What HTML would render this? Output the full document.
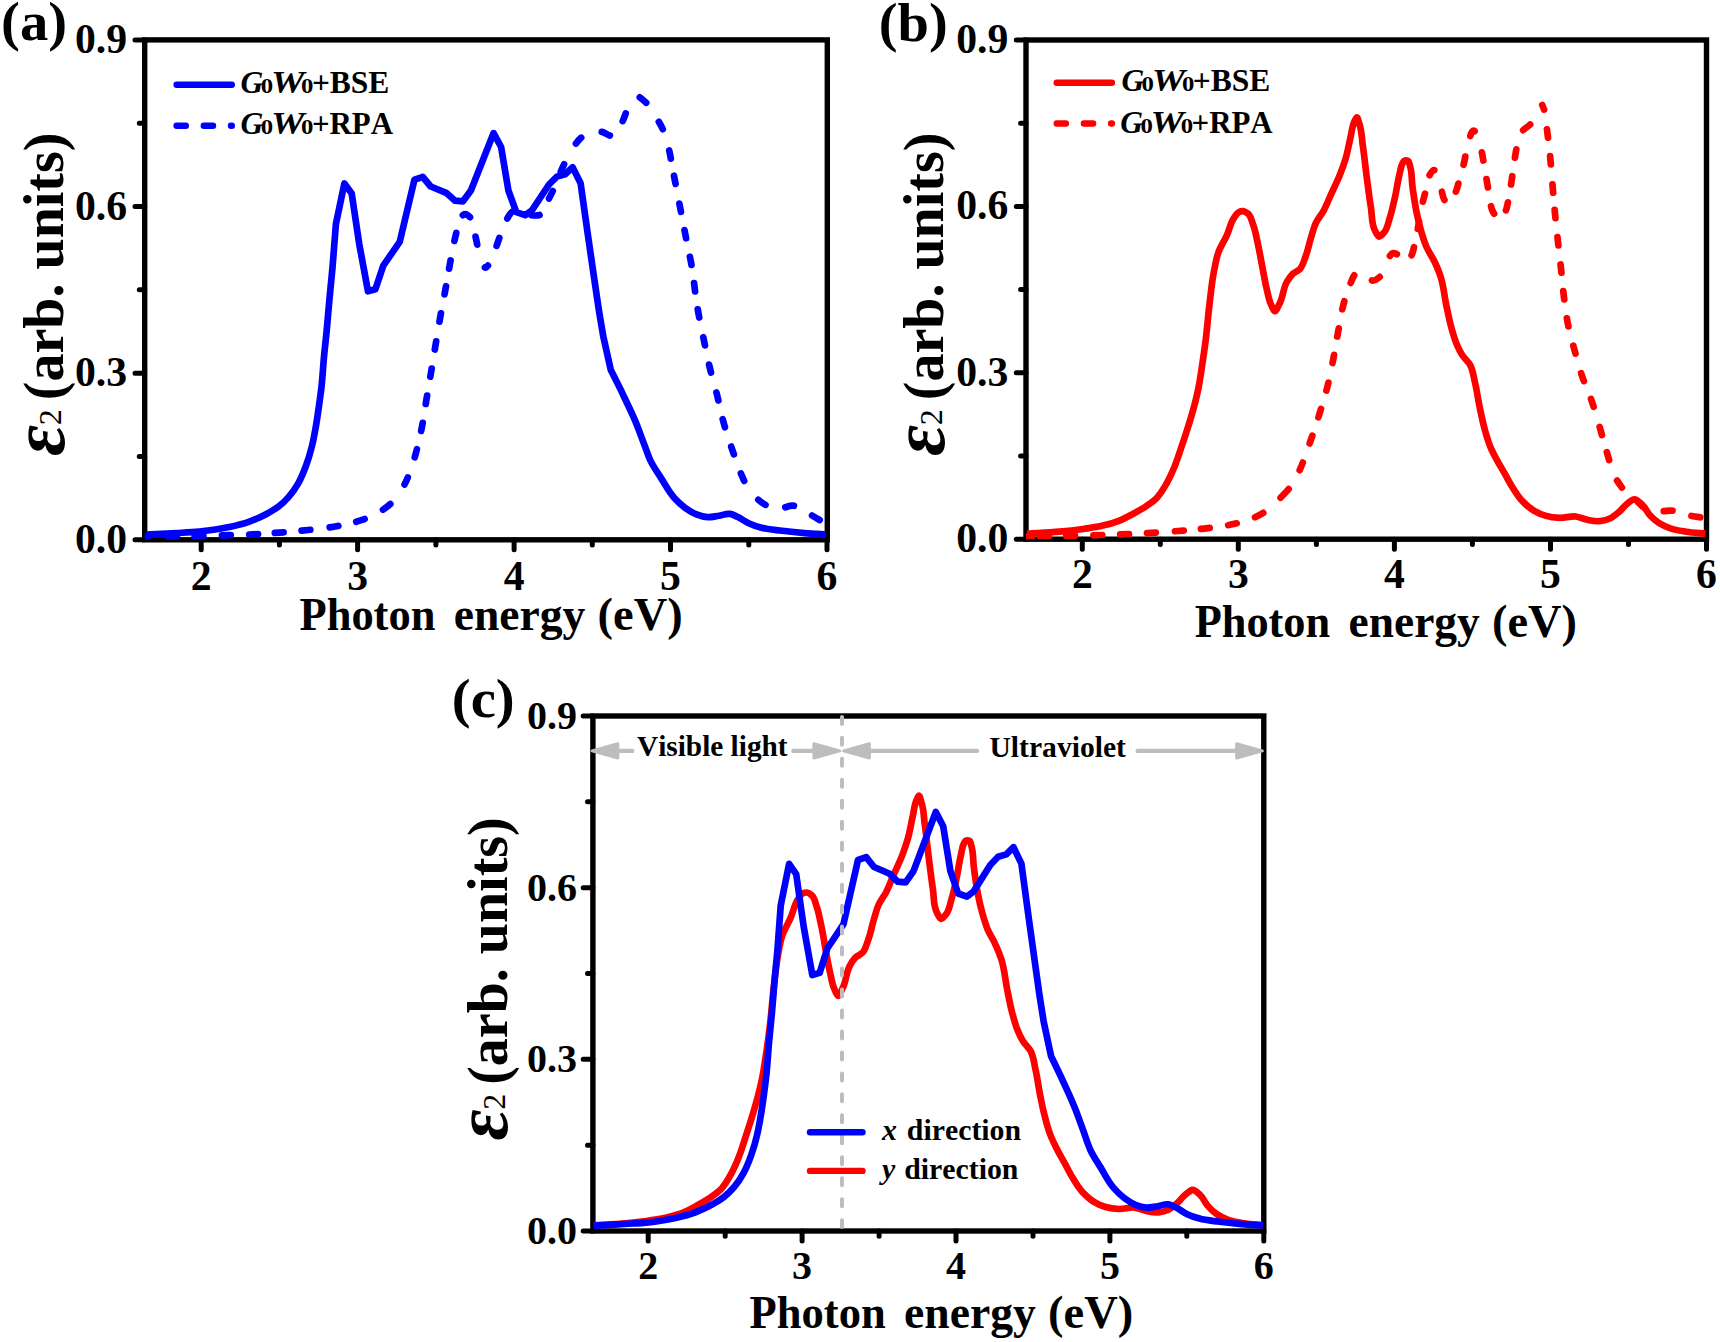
<!DOCTYPE html>
<html lang="en"><head><meta charset="utf-8"><title>Imaginary part of the dielectric function</title>
<style>html,body{margin:0;padding:0;background:#fff;overflow:hidden}svg{display:block}text{font-family:'Liberation Serif', 'Times New Roman', Times, serif;fill:#000;font-kerning:none}</style>
</head><body>
<svg width="1720" height="1342" viewBox="0 0 1720 1342">
<rect width="1720" height="1342" fill="#fff"/>
<defs>
<clipPath id="ca"><rect x="144.7" y="39.9" width="682.6" height="499.9"/></clipPath>
<clipPath id="cb"><rect x="1026" y="40" width="680.5" height="499.2"/></clipPath>
<clipPath id="cc"><rect x="592.9" y="716" width="670.9" height="515"/></clipPath>
</defs>
<g id="panel-a">
<rect x="144.7" y="39.9" width="682.6" height="499.9" fill="none" stroke="#000" stroke-width="5.4"/>
<path d="M201.2 539.8 V549.8 M357.6 539.8 V549.8 M514.1 539.8 V549.8 M670.5 539.8 V549.8 M827 539.8 V549.8 M279.4 539.8 V545 M435.9 539.8 V545 M592.3 539.8 V545 M748.8 539.8 V545 M144.7 539.8 H135 M144.7 373.2 H135 M144.7 206.5 H135 M144.7 39.9 H135 M144.7 456.5 H139.3 M144.7 289.8 H139.3 M144.7 123.2 H139.3" fill="none" stroke="#000" stroke-width="5.0" stroke-linecap="round"/>
<g clip-path="url(#ca)" fill="none" stroke="#0000ff" stroke-width="6.7" stroke-linejoin="round">
<path d="M146 537 C163.7 536.7 181.3 536.5 199 536 C218.9 535.5 238.8 535.2 258.6 534 C275.1 533 291.6 531.9 308 530 C317.9 528.9 327.9 527.9 337.7 526 C345.7 524.4 353.8 522.9 361.4 520.2 C366.8 518.3 372.2 516 377.2 513.2 C382.1 510.4 387 507.2 391 503.4 C395.7 498.9 399.6 493.2 402.9 487.5 C406.1 482 408.5 475.8 410.8 469.8 C413.2 463.4 414.9 456.7 416.7 450 C418.6 442.8 420.2 435.5 421.7 428.2 C423.7 418.4 425 408.5 426.6 398.6 C428.3 388.7 430 378.9 431.6 369 C433.3 359.1 434.8 349.2 436.5 339.3 C437.8 331.4 439.1 323.5 440.5 315.6 C442.3 305.5 444.4 295.4 446.2 285.3 C447.9 276.1 449.3 266.9 451.1 257.7 C452.6 249.8 454.1 241.8 456 234 C457.3 228.5 456.6 221.4 460.4 217.5 C461.7 216.2 463.4 214.3 465 214.2 C466.9 214 469.3 216.5 470.9 218.1 C475.5 222.6 474.2 231.3 475.8 237.9 C477.4 244.5 478.1 251.4 480.7 257.7 C482.1 261.1 483.4 268.3 485.7 267.6 C486.8 267.3 488.4 265 489.6 263.6 C493.6 258.7 494.4 251.8 496.6 245.8 C498.3 241.2 499.7 236.6 501.5 232 C503 228 504.2 223.8 506.4 220.1 C508.3 216.9 510.3 212.1 513.4 211.2 C515.8 210.5 519.1 212.4 522 213 C525.1 213.7 528.1 214.9 531.2 215.2 C534.1 215.5 537.6 215.9 540 214.8 C543.8 213.1 544.8 206.5 547 202.3 C549.3 198.1 551.4 193.8 553.5 189.5 C557.4 181.3 560 172.6 564 164.5 C567.3 157.8 570.4 150.7 575 144.8 C576.9 142.3 578.9 139.5 581.3 137.6 C586.7 133.3 595.2 130.8 601.9 131.9 C605.1 132.5 608.7 135.9 611.5 135.7 C616.1 135.3 619.2 127.3 622 122.5 C624.4 118.3 625.3 113.2 627.7 108.9 C630.2 104.4 633.1 96.3 636.9 96.3 C639.6 96.3 643.5 100.3 646.2 102.8 C650.5 106.8 653.3 112.6 656.4 117.7 C659.1 122.2 661.9 126.8 663.9 131.7 C666 136.7 667.2 142.2 668.5 147.5 C670.5 155.5 671.6 163.7 673.2 171.8 C675.4 183 677.5 194.1 679.7 205.3 C681.9 216.5 684 227.6 686.2 238.8 C688 248.1 690.2 257.4 691.8 266.7 C693.6 277.1 694.4 287.6 696 298 C696.7 302.8 697.5 307.6 698.3 312.4 C699.9 321.7 702 331 703.9 340.3 C705.7 349 707.4 357.7 709.5 366.4 C711.7 375.8 714.6 385 716.9 394.3 C719.2 403.6 720.9 413 723.5 422.2 C725.9 431 728.8 439.7 731.8 448.3 C735 457.7 738 467.2 742.1 476.2 C744.1 480.6 745.8 485.3 748.6 489.3 C750.7 492.3 753.4 495.2 756.1 497.7 C759.4 500.8 763.1 503.9 767.2 505.7 C771.2 507.4 775.9 508.3 780.3 508.3 C784.6 508.3 789 505.2 793.3 505.7 C795.8 506 798.4 506.9 800.8 507.9 C804.9 509.6 808.1 513 811.9 515.4 C816.5 518.3 821.3 520.8 826 523.5" stroke-dasharray="2.3 19.8 8.8 17.71 8.8 18.56 8.8 18.52 8.8 16.82 8.8 18.04 8.8 19.5 8.8 18.36 8.8 20.64 9.3 24.2 7.8 21.32 8.3 18.79 8.3 19.2 8.3 19.22 8.3 19.28 8.3 20 8.3 19.4 8.3 17.85 8.3 19.91 8.3 19.38 8.3 20.72 8.3 24.13 3.8 21.84 8.3 21.18 8.3 20.1 7.8 19.43 8.3 20.89 8.3 23.91 7.8 21.93 8.8 20.62 8.3 24.07 8.3 22.95 8.3 22.32 8.3 17.39 8.3 20.13 8.3 18.7 8.3 18.76 8.3 18.54 8.3 18.12 8.3 20.16 8.3 19.6 8.3 20.56 8.3 19.18 8.3 20.33 8.3 20.21 8.3 23.71 8.8 20.46 8.8 20.8 8.8 5000" stroke-linecap="round"/>
<path d="M146 534.7 C156.3 534.1 166.7 533.6 177 533 C184.4 532.6 191.9 532.3 199.3 531.6 C209.3 530.6 219.2 529.3 229 527.1 C235.6 525.6 242.3 524.1 248.7 521.8 C254.8 519.6 260.8 517.1 266.5 514 C270.6 511.8 274.7 509.5 278.4 506.7 C282 504 285.3 500.8 288.3 497.4 C292 493.2 295.3 488.5 298.1 483.6 C301.3 478 303.7 471.9 306 465.8 C308.4 459.4 310.3 452.7 312 446 C313.6 439.5 314.7 432.9 315.9 426.3 C317 419.7 318 413.1 318.9 406.5 C319.8 399.9 320.8 393.3 321.5 386.7 C322.5 377.5 323 368.2 323.8 359 C324.7 349.1 325.9 339.3 326.8 329.4 C327.7 319.5 328.5 309.7 329.4 299.8 C330.4 289.1 332.5 267.6 332.5 267.6 L335.9 224 L344.4 183.5 L351.7 193.4 L359.2 243.8 L368 291.3 L375.4 289.3 L383.3 265.6 L399.7 241.9 L414.5 179.6 L422.8 177 L430.7 186.5 L446.2 192.8 L455 200.7 L463 201.3 L470.9 190.5 L493.6 133.1 L501.1 147 L508.4 190.5 L516.3 212.2 L525.2 215.2 L532.1 210.2 L549 184.5 L556.9 176.6 L565.2 174.2 L572.6 167.3 L580.6 183.2 L588.4 238.5 L595 284 L599 311 L603.3 336.6 L610.8 370.1 C610.8 370.1 619.6 387.4 623.8 396.2 C627.6 404.2 631.5 412.2 635 420.4 C638.4 428.4 641.2 436.5 644.3 444.6 C646.5 450.2 648.2 456 650.8 461.4 C653.7 467.2 657.6 472.6 661.1 478.1 C665.3 484.7 668.9 491.9 674.1 497.7 C677.5 501.4 681.2 505 685.3 507.9 C688.8 510.4 692.5 512.8 696.5 514.4 C700 515.8 703.9 517 707.6 517.2 C711.3 517.4 715.1 516.3 718.8 515.8 C722.5 515.2 726.4 513.3 730 513.9 C732.5 514.3 735 515.7 737.4 516.8 C741.3 518.6 744.7 521.4 748.6 523.2 C752.8 525.1 757.2 526.6 761.6 527.8 C768.2 529.6 775.2 529.9 782.1 530.8 C789.5 531.7 797 532.5 804.5 533.1 C811.7 533.7 818.8 534 826 534.4"/>
</g>
<g font-size="41.7" font-weight="bold" text-anchor="middle">
<text x="201.2" y="589.8">2</text>
<text x="357.6" y="589.8">3</text>
<text x="514.1" y="589.8">4</text>
<text x="670.5" y="589.8">5</text>
<text x="827" y="589.8">6</text>
</g>
<g font-size="41.7" font-weight="bold" text-anchor="end">
<text x="127" y="552.8">0.0</text>
<text x="127" y="386.2">0.3</text>
<text x="127" y="219.5">0.6</text>
<text x="127" y="52.9">0.9</text>
</g>
<g font-size="47.2" font-weight="bold">
<text x="299.5" y="629.8" textLength="135.9" lengthAdjust="spacingAndGlyphs">Photon</text>
<text x="453.8" y="629.8" textLength="131.6" lengthAdjust="spacingAndGlyphs">energy</text>
<text x="597.6" y="629.8" textLength="85.1" lengthAdjust="spacingAndGlyphs">(eV)</text>
</g>
<g transform="translate(62.9 455.9) rotate(-90)">
<text x="0" y="0" font-size="56" font-weight="bold"><tspan font-style="italic" font-size="76" dy="0.7">ε</tspan><tspan font-size="32" font-weight="normal" dx="-0.4" dy="-2.4">2</tspan><tspan dx="9" dy="1.7">(arb. units)</tspan></text>
</g>
<text x="1.1" y="39.9" font-size="54.5" font-weight="bold" textLength="66.1" lengthAdjust="spacingAndGlyphs">(a)</text>
<path d="M176.6 84.8H231.8" stroke="#0000ff" stroke-width="6.4" stroke-linecap="round" fill="none"/>
<path d="M176.6 125.7H231.8" stroke="#0000ff" stroke-width="6.4" stroke-linecap="round" stroke-dasharray="9.2 18" fill="none"/>
<g font-size="31.5" font-weight="bold">
<text x="240.6" y="92.8" font-style="italic">G</text>
<text x="260.8" y="92.8" font-size="20" textLength="12.4" lengthAdjust="spacingAndGlyphs">0</text>
<text x="270.9" y="92.8" font-style="italic" textLength="33.5" lengthAdjust="spacingAndGlyphs">W</text>
<text x="301.1" y="92.8" font-size="20" textLength="12.4" lengthAdjust="spacingAndGlyphs">0</text>
<text x="311.9" y="92.8">+BSE</text>
</g>
<g font-size="31.5" font-weight="bold">
<text x="240.6" y="134.4" font-style="italic">G</text>
<text x="260.8" y="134.4" font-size="20" textLength="12.4" lengthAdjust="spacingAndGlyphs">0</text>
<text x="270.9" y="134.4" font-style="italic" textLength="33.5" lengthAdjust="spacingAndGlyphs">W</text>
<text x="301.1" y="134.4" font-size="20" textLength="12.4" lengthAdjust="spacingAndGlyphs">0</text>
<text x="311.9" y="134.4" textLength="81.2" lengthAdjust="spacingAndGlyphs">+RPA</text>
</g>
</g>
<g id="panel-b">
<rect x="1026" y="40" width="680.5" height="499.2" fill="none" stroke="#000" stroke-width="5.4"/>
<path d="M1082.3 539.2 V549.2 M1238.3 539.2 V549.2 M1394.4 539.2 V549.2 M1550.5 539.2 V549.2 M1706.5 539.2 V549.2 M1160.3 539.2 V544.4 M1316.4 539.2 V544.4 M1472.4 539.2 V544.4 M1628.5 539.2 V544.4 M1026 539.2 H1016.3 M1026 372.8 H1016.3 M1026 206.4 H1016.3 M1026 40 H1016.3 M1026 456 H1020.6 M1026 289.6 H1020.6 M1026 123.2 H1020.6" fill="none" stroke="#000" stroke-width="5.0" stroke-linecap="round"/>
<g clip-path="url(#cb)" fill="none" stroke="#ff0000" stroke-width="6.7" stroke-linejoin="round">
<path d="M1027 536.6 C1044.4 536.3 1061.9 536.1 1079.3 535.6 C1095.8 535.2 1112.2 534.8 1128.7 534 C1145.2 533.2 1161.7 532.4 1178.1 531 C1188 530.2 1197.9 529.4 1207.8 528.1 C1216.4 527 1225.1 526.1 1233.5 524.1 C1240.2 522.5 1247 521 1253.2 518.2 C1258 516 1262.8 513.4 1267.1 510.3 C1272.2 506.6 1276.5 501.9 1280.9 497.4 C1285.1 493 1289.5 488.6 1292.8 483.6 C1296 478.7 1298.4 473.2 1300.7 467.8 C1302.9 462.6 1304.7 457.3 1306.6 452 C1309 445.4 1311.3 438.8 1313.5 432.2 C1315.9 425 1318.3 417.8 1320.5 410.5 C1322.9 402.6 1325.4 394.7 1327.4 386.7 C1329.7 377.6 1331.5 368.3 1333.3 359 C1335.1 349.8 1336.5 340.6 1338.2 331.4 C1340.1 321.5 1341.4 311.4 1344.2 301.7 C1346 295.5 1347.6 289 1350.5 283.3 C1352.1 280.1 1353.3 274.7 1356.2 274 C1358.1 273.5 1360.8 274.8 1363 275.5 C1366.6 276.6 1370.1 280.9 1373.4 280.5 C1376.2 280.2 1379.4 277.3 1381.6 275.1 C1385.5 271.1 1384.8 263.5 1388.2 258.7 C1389.6 256.7 1391 253.3 1393.1 253 C1394.5 252.8 1396.4 254.1 1398 254.6 C1401.8 255.7 1406.8 258.7 1409.5 257.5 C1412.6 256.1 1413.2 249.3 1414.6 245 C1416.7 238.6 1417.2 231.7 1418.5 225 C1419.8 218 1420.7 210.9 1422.3 204 C1423.3 199.7 1424.5 195.5 1425.6 191.3 C1427 185.9 1426.8 179.6 1429.7 175 C1430.8 173.2 1432.3 170 1433.8 170 C1435.1 170 1436.8 172 1437.9 173.3 C1441.1 176.9 1439.6 183.2 1441 188 C1442.3 192.4 1443.1 200.8 1445.9 201 C1448 201.2 1452 197.2 1454.1 194.6 C1456.9 191.1 1457.5 185.9 1459 181.5 C1461 175.6 1462.4 169.5 1463.9 163.4 C1465.8 155.8 1466 147.7 1468.9 140.5 C1470.3 137.1 1471.2 130 1473.8 130.7 C1474.7 131 1476.1 132.2 1477 133.1 C1480.7 136.7 1479.9 143.5 1481.1 148.7 C1482.8 156.3 1483.8 164 1485.2 171.6 C1486.6 179.3 1487.7 187 1489.3 194.6 C1490.5 200.6 1490.2 207.5 1493.4 212.6 C1494.9 215 1497.3 219.2 1499.2 219.2 C1501.1 219.2 1503.5 215.1 1504.9 212.6 C1506.9 209.2 1507.3 205 1508.2 201.1 C1509.8 194.7 1510.5 188 1511.5 181.5 C1512.7 173.8 1513.5 166.1 1514.8 158.5 C1515.5 154.1 1516.1 149.7 1517.2 145.4 C1518.3 141 1518.9 136 1521.3 132.3 C1523.6 128.7 1528.7 126.8 1531.1 123.3 C1534.1 118.9 1533.1 112.2 1536.1 107.7 C1537.3 106 1539 102.9 1540.2 102.8 C1541.8 102.6 1543.3 107.6 1544.3 110.2 C1546.4 115.5 1545.9 121.7 1546.7 127.4 C1547.9 136.7 1549.1 145.9 1550 155.2 C1551 165 1551.7 174.9 1552.5 184.8 C1553.3 194.1 1554 203.3 1554.9 212.6 C1555.9 223 1557.1 233.4 1558.2 243.8 C1559.3 253.6 1560.5 263.5 1561.5 273.3 C1562.1 278.8 1562.5 284.3 1563.1 289.8 C1563.6 294.4 1564.2 299.1 1564.8 303.7 C1565.7 310.3 1566.5 316.9 1567.8 323.4 C1569.4 331.4 1571.6 339.2 1573.7 347.1 C1576.2 356.3 1578.6 365.6 1581.6 374.7 C1584.5 383.4 1588.5 391.7 1591.5 400.4 C1594.4 408.9 1596.8 417.5 1599.4 426.1 C1602.1 435.3 1604.5 444.6 1607.3 453.7 C1609.8 461.6 1611.3 470.1 1615.2 477.4 C1617.4 481.5 1620.3 485.3 1623.1 489.2 C1625 491.9 1626.6 495 1629 497.1 C1631.2 499 1634.4 499.8 1636.9 501.5 C1639.7 503.4 1641.9 506.4 1644.8 508 C1649.4 510.5 1655.3 511 1660.6 511.3 C1664.5 511.5 1668.5 510.2 1672.4 510.6 C1677.1 511.1 1681.5 513.8 1686.2 514.9 C1692.5 516.5 1699.1 517 1705.5 518" stroke-dasharray="4.8 8.23 8.8 17.37 8.8 18.45 8.8 17.96 8.8 18.03 8.8 19.23 8.8 17.31 8.8 18.64 8.8 19.29 9.3 23.06 11.8 21.95 8.3 20.29 8.3 19.23 8.8 19.09 8.3 20.03 8.3 18.56 8.3 19.4 8.3 19.48 8.3 19.59 8.8 23.79 8.3 16.38 8.3 18.69 7.3 20.44 8.3 19.21 7.4 23.96 8.3 16.02 8.3 19.58 8.3 21.29 7.8 22.97 8.3 18.9 8.3 19.17 8.3 18.9 8.3 18.15 8.3 18.83 8.3 20.79 8.8 27.57 4.8 20.22 8.3 18.71 8.3 20.04 8.3 17.27 8.3 19.15 8.3 19.14 8.3 18.52 8.3 19.08 8.3 19.81 8.3 20.37 8.3 19.22 8.3 21.06 8.3 17.85 8.3 22.15 8.3 22.28 8.3 20.03 8.8 19.75 8.8 5000" stroke-linecap="round"/>
<path d="M1027 533.8 C1037.8 533.1 1048.7 532.7 1059.5 531.7 C1067.4 531 1075.4 530.1 1083.3 529 C1089.9 528 1096.5 527.2 1103 525.6 C1108.3 524.3 1113.7 522.8 1118.8 520.8 C1123.6 518.9 1128.2 516.4 1132.7 514 C1137.4 511.5 1142.1 509 1146.5 506 C1149.9 503.6 1153.5 501.2 1156.4 498.3 C1160.4 494.2 1163.4 489 1166.3 484 C1169.4 478.7 1171.8 473.1 1174.2 467.5 C1176.9 461.1 1178.9 454.5 1181.1 448 C1183.1 442.1 1185.1 436.2 1187 430.2 C1189.1 423.7 1191.2 417.1 1193 410.5 C1194.8 403.9 1196.5 397.3 1197.9 390.7 C1199.6 382.9 1200.7 374.9 1201.9 367 C1203.3 357.8 1204.6 348.6 1205.8 339.3 C1207.2 327.9 1208 316.4 1209.4 305 C1210.7 294.5 1211.6 283.8 1213.6 273.4 C1215 266.3 1216 258.9 1218.5 252.1 C1220.6 246.4 1224.2 241.3 1226.7 235.7 C1229.4 229.8 1230.4 222.9 1234.1 217.7 C1235.5 215.7 1236.8 213 1239 212 C1240.2 211.4 1241.8 211 1243.1 211.1 C1244.8 211.2 1246.6 212.5 1248 213.6 C1250.9 216 1251.6 220.6 1253 224.3 C1255.4 230.6 1256.4 237.3 1257.9 243.9 C1259.5 251 1260.6 258.1 1262 265.2 C1263.6 273.4 1264.9 281.7 1266.9 289.8 C1268 294.4 1268.7 299.2 1270.6 303.5 C1271.8 306.2 1273.3 311.1 1274.8 311.2 C1276.3 311.3 1278.2 306.2 1279.6 303.5 C1283.2 296.7 1283.1 288.1 1287 281.6 C1288.5 279.1 1290.2 276.4 1292.3 274.3 C1294.4 272.3 1297.7 271.4 1299.7 269.3 C1302.7 266.1 1303.8 261.2 1305.4 257 C1307.9 250.7 1309 243.9 1311.1 237.4 C1312.7 232.4 1313.8 227.2 1316.1 222.6 C1318.1 218.5 1321.2 215.1 1323.4 211.1 C1326.3 205.9 1328.3 200.2 1330.8 194.8 C1333.8 188.2 1337.1 181.8 1339.8 175.1 C1341.9 169.7 1343.9 164.2 1345.6 158.7 C1347.7 151.7 1348.8 144.5 1350.5 137.4 C1351.8 131.9 1352.1 126 1354.6 121 C1355.2 119.8 1356.1 117.7 1356.7 117.4 C1357.8 116.9 1358.7 122 1359.5 124.3 C1361.8 131.1 1361.8 138.5 1362.8 145.6 C1364.4 156.5 1365.5 167.5 1366.9 178.4 C1368.2 188.2 1369.4 198.1 1371 207.9 C1372.2 215.6 1371.4 224.2 1375.1 230.8 C1376.2 232.8 1377.6 236.5 1379.2 236.6 C1380.6 236.7 1382.7 234 1384.1 232.5 C1387.5 228.7 1388.2 222.7 1389.8 217.7 C1391.9 211.3 1393.3 204.6 1394.8 198 C1396.7 189.9 1397.6 181.5 1399.7 173.4 C1400.6 170 1400.7 166.2 1402.6 163.2 C1403.1 162.4 1403.6 161.3 1404.3 160.9 C1405.3 160.3 1407.1 160.4 1408 160.9 C1409.4 161.6 1409.4 164.3 1410 166 C1412.2 172.7 1411.5 180 1412.5 187 C1413.7 195.5 1414.9 204.1 1416.6 212.5 C1417.9 218.6 1419.3 224.7 1421 230.7 C1422.6 236.2 1424.2 241.8 1426.5 247 C1428.8 252.1 1432.2 256.7 1434.6 261.8 C1436.8 266.4 1438.8 271.2 1440.4 276 C1443.6 285.5 1444.3 295.8 1446.4 305.7 C1448 312.9 1449.3 320.3 1451.3 327.4 C1452.8 332.7 1454.2 338.1 1456.3 343.2 C1458 347.2 1459.8 351.3 1462.2 355 C1464.5 358.5 1468.1 361.3 1470.1 364.9 C1473 370.1 1473.6 376.7 1475 382.6 C1477 391.1 1478.1 399.8 1479.9 408.3 C1481.4 415.6 1482.9 422.9 1484.9 430 C1486.6 436 1488.3 442.1 1490.8 447.8 C1492.5 451.8 1494.6 455.7 1496.7 459.6 C1499.2 464.3 1502 468.8 1504.6 473.4 C1507.2 478 1509.6 482.8 1512.5 487.3 C1515.5 492.1 1518.5 497 1522.4 501.1 C1525.9 504.8 1529.8 508.3 1534.2 510.9 C1537.9 513.1 1542 514.7 1546.1 515.9 C1550.5 517.2 1555.3 517.7 1559.9 517.9 C1565.1 518.1 1570.5 515.9 1575.7 516.5 C1579.7 517 1583.5 519 1587.5 519.8 C1591.4 520.6 1595.5 521.5 1599.4 521.2 C1602.7 520.9 1606.2 520.1 1609.2 518.8 C1612.8 517.2 1616 514.5 1619.1 511.9 C1622.1 509.4 1624.2 505.9 1627.3 503.6 C1629.5 501.9 1632.1 499.3 1634.4 499.3 C1637 499.3 1639.9 502.5 1642.2 504.6 C1645.3 507.4 1646.9 511.8 1649.7 514.9 C1652.4 517.8 1655.3 520.6 1658.6 522.8 C1662.2 525.2 1666.3 526.9 1670.4 528.3 C1675.5 530.1 1680.9 530.8 1686.2 531.7 C1692.6 532.7 1699.1 533 1705.5 533.6"/>
</g>
<g font-size="41.7" font-weight="bold" text-anchor="middle">
<text x="1082.3" y="588.1">2</text>
<text x="1238.3" y="588.1">3</text>
<text x="1394.4" y="588.1">4</text>
<text x="1550.5" y="588.1">5</text>
<text x="1706.5" y="588.1">6</text>
</g>
<g font-size="41.7" font-weight="bold" text-anchor="end">
<text x="1008.3" y="552.2">0.0</text>
<text x="1008.3" y="385.8">0.3</text>
<text x="1008.3" y="219.4">0.6</text>
<text x="1008.3" y="53">0.9</text>
</g>
<g font-size="47.2" font-weight="bold">
<text x="1194.7" y="637.2" textLength="135.5" lengthAdjust="spacingAndGlyphs">Photon</text>
<text x="1348.6" y="637.2" textLength="131.2" lengthAdjust="spacingAndGlyphs">energy</text>
<text x="1492" y="637.2" textLength="84.9" lengthAdjust="spacingAndGlyphs">(eV)</text>
</g>
<g transform="translate(943.4 456) rotate(-90)">
<text x="0" y="0" font-size="56" font-weight="bold"><tspan font-style="italic" font-size="76" dy="0.7">ε</tspan><tspan font-size="32" font-weight="normal" dx="-0.4" dy="-2.4">2</tspan><tspan dx="9" dy="1.7">(arb. units)</tspan></text>
</g>
<text x="878.8" y="40.5" font-size="54" font-weight="bold" textLength="69" lengthAdjust="spacingAndGlyphs">(b)</text>
<path d="M1056.7 82.8H1111.9" stroke="#ff0000" stroke-width="6.4" stroke-linecap="round" fill="none"/>
<path d="M1056.7 123.5H1111.9" stroke="#ff0000" stroke-width="6.4" stroke-linecap="round" stroke-dasharray="9.2 18" fill="none"/>
<g font-size="31.5" font-weight="bold">
<text x="1121.4" y="91.3" font-style="italic">G</text>
<text x="1141.6" y="91.3" font-size="20" textLength="12.4" lengthAdjust="spacingAndGlyphs">0</text>
<text x="1151.7" y="91.3" font-style="italic" textLength="33.5" lengthAdjust="spacingAndGlyphs">W</text>
<text x="1181.9" y="91.3" font-size="20" textLength="12.4" lengthAdjust="spacingAndGlyphs">0</text>
<text x="1192.7" y="91.3">+BSE</text>
</g>
<g font-size="31.5" font-weight="bold">
<text x="1120.2" y="133.1" font-style="italic">G</text>
<text x="1140.4" y="133.1" font-size="20" textLength="12.4" lengthAdjust="spacingAndGlyphs">0</text>
<text x="1150.5" y="133.1" font-style="italic" textLength="33.5" lengthAdjust="spacingAndGlyphs">W</text>
<text x="1180.7" y="133.1" font-size="20" textLength="12.4" lengthAdjust="spacingAndGlyphs">0</text>
<text x="1191.5" y="133.1" textLength="81.2" lengthAdjust="spacingAndGlyphs">+RPA</text>
</g>
</g>
<g id="panel-c">
<rect x="592.9" y="716" width="670.9" height="515" fill="none" stroke="#000" stroke-width="5.4"/>
<path d="M648.2 1231 V1241 M802.1 1231 V1241 M956 1231 V1241 M1109.9 1231 V1241 M1263.8 1231 V1241 M725.2 1231 V1236.2 M879.1 1231 V1236.2 M1033 1231 V1236.2 M1186.8 1231 V1236.2 M592.9 1231 H583.2 M592.9 1059.3 H583.2 M592.9 887.7 H583.2 M592.9 716 H583.2 M592.9 1145.2 H587.5 M592.9 973.5 H587.5 M592.9 801.8 H587.5" fill="none" stroke="#000" stroke-width="5.0" stroke-linecap="round"/>
<g stroke="#bdbdbd" fill="#bdbdbd" stroke-width="4.4" stroke-linecap="round" stroke-linejoin="round">
<path d="M610.9 750.9H632.2 M793.4 750.9H820 M864 750.9H977 M1137.7 750.9H1241.8" fill="none"/>
<path d="M592 750.9L617.8 743.8L617.8 758Z" stroke-width="3"/>
<path d="M839.7 750.9L813.9 743.8L813.9 758Z" stroke-width="3"/>
<path d="M843.6 750.9L869.4 743.8L869.4 758Z" stroke-width="3"/>
<path d="M1262.4 750.9L1236.6 743.8L1236.6 758Z" stroke-width="3"/>
</g>
<text x="637" y="755.5" font-size="29.3" font-weight="bold">Visible light</text>
<text x="989.5" y="757" font-size="29.6" font-weight="bold">Ultraviolet</text>
<g clip-path="url(#cc)" fill="none" stroke-width="6.7" stroke-linejoin="round">
<path d="M593.7 1225.4 C604.3 1224.7 615.1 1224.3 625.7 1223.3 C633.6 1222.5 641.4 1221.7 649.2 1220.5 C655.7 1219.5 662.3 1218.6 668.6 1217 C673.9 1215.6 679.2 1214.1 684.2 1212 C688.9 1210.1 693.4 1207.5 697.9 1205 C702.5 1202.4 707.2 1199.8 711.5 1196.7 C714.9 1194.3 718.4 1191.8 721.3 1188.8 C725.3 1184.6 728.2 1179.2 731 1174.1 C734.1 1168.6 736.5 1162.8 738.8 1157 C741.5 1150.5 743.4 1143.6 745.6 1136.9 C747.6 1130.8 749.6 1124.7 751.5 1118.6 C753.5 1111.8 755.6 1105 757.4 1098.2 C759.2 1091.5 760.8 1084.7 762.2 1077.8 C763.8 1069.7 764.9 1061.5 766.2 1053.3 C767.6 1043.8 768.9 1034.3 770 1024.8 C771.4 1013 772.2 1001.2 773.5 989.4 C774.8 978.5 775.7 967.6 777.7 956.8 C779 949.4 780 941.8 782.5 934.8 C784.6 929 788.1 923.6 790.6 917.9 C793.3 911.8 794.2 904.8 797.9 899.3 C799.3 897.3 800.6 894.5 802.7 893.4 C803.9 892.9 805.5 892.4 806.8 892.5 C808.5 892.7 810.3 894 811.6 895.1 C814.6 897.5 815.2 902.4 816.5 906.1 C818.9 912.6 819.9 919.6 821.4 926.4 C822.9 933.6 824.1 941 825.4 948.3 C827 956.8 828.3 965.3 830.3 973.7 C831.4 978.4 832 983.4 833.9 987.8 C835 990.6 836.6 995.7 838 995.8 C839.5 995.9 841.4 990.6 842.8 987.8 C846.4 980.8 846.1 972 850.1 965.2 C851.6 962.6 853.2 959.8 855.3 957.7 C857.4 955.6 860.7 954.7 862.6 952.6 C865.6 949.3 866.6 944.2 868.2 939.9 C870.7 933.3 871.8 926.3 873.8 919.6 C875.4 914.5 876.5 909.2 878.8 904.4 C880.7 900.2 883.8 896.6 886 892.5 C888.8 887.1 890.8 881.3 893.3 875.7 C896.2 868.9 899.5 862.3 902.2 855.4 C904.3 849.8 906.2 844.2 907.9 838.5 C909.9 831.3 911 823.8 912.7 816.5 C914 810.8 914.2 804.7 916.7 799.6 C917.4 798.3 918.2 796.2 918.8 795.8 C919.9 795.3 920.8 800.6 921.6 803 C923.9 810 923.8 817.6 924.8 824.9 C926.4 836.2 927.5 847.5 928.9 858.8 C930.2 868.9 931.4 879.1 932.9 889.2 C934.1 897.1 933.2 905.9 937 912.8 C938.1 914.9 939.4 918.7 941 918.8 C942.4 918.9 944.5 916.2 945.8 914.6 C949.3 910.6 949.8 904.5 951.5 899.3 C953.5 892.7 954.9 885.8 956.4 879 C958.2 870.6 959.2 862 961.2 853.6 C962.1 850.1 962.2 846.2 964.1 843.1 C964.6 842.3 965 841.2 965.8 840.7 C966.7 840.2 968.5 840.3 969.4 840.7 C970.8 841.4 970.8 844.2 971.4 846 C973.6 852.9 972.9 860.4 973.9 867.7 C975 876.4 976.2 885.3 977.9 894 C979.1 900.3 980.5 906.6 982.2 912.7 C983.8 918.4 985.4 924.1 987.7 929.6 C989.9 934.8 993.3 939.6 995.6 944.8 C997.8 949.6 999.8 954.5 1001.4 959.5 C1004.5 969.3 1005.2 979.9 1007.3 990.1 C1008.8 997.6 1010.2 1005.1 1012.1 1012.5 C1013.6 1018 1015 1023.5 1017 1028.8 C1018.7 1033 1020.5 1037.2 1022.9 1041 C1025.1 1044.6 1028.7 1047.5 1030.7 1051.2 C1033.6 1056.6 1034.1 1063.3 1035.5 1069.4 C1037.5 1078.2 1038.5 1087.2 1040.3 1096 C1041.8 1103.4 1043.2 1111 1045.3 1118.3 C1046.9 1124.5 1048.6 1130.8 1051.1 1136.7 C1052.8 1140.9 1054.9 1144.9 1056.9 1148.9 C1059.3 1153.7 1062.1 1158.4 1064.7 1163.1 C1067.3 1167.9 1069.6 1172.8 1072.5 1177.5 C1075.5 1182.4 1078.4 1187.5 1082.2 1191.7 C1085.7 1195.5 1089.5 1199.1 1093.9 1201.8 C1097.5 1204 1101.5 1205.8 1105.6 1207 C1110 1208.3 1114.7 1208.9 1119.2 1209 C1124.4 1209.2 1129.7 1207 1134.8 1207.6 C1138.7 1208.1 1142.5 1210.2 1146.4 1211 C1150.3 1211.8 1154.3 1212.7 1158.2 1212.4 C1161.4 1212.2 1164.9 1211.3 1167.8 1210 C1171.4 1208.3 1174.6 1205.5 1177.6 1202.8 C1180.5 1200.2 1182.6 1196.7 1185.7 1194.3 C1187.8 1192.6 1190.4 1189.9 1192.7 1189.8 C1195.3 1189.8 1198.1 1193.2 1200.4 1195.3 C1203.5 1198.2 1205 1202.7 1207.8 1205.9 C1210.4 1208.9 1213.3 1211.8 1216.6 1214.1 C1220.1 1216.5 1224.2 1218.3 1228.2 1219.8 C1233.2 1221.6 1238.5 1222.4 1243.8 1223.3 C1250.1 1224.3 1256.5 1224.6 1262.8 1225.2" stroke="#ff0000"/>
<path d="M593.9 1225.7 C604.1 1225.2 614.2 1224.6 624.4 1224 C631.7 1223.5 639.1 1223.3 646.3 1222.6 C656.1 1221.5 666 1220.1 675.5 1217.9 C682.1 1216.4 688.7 1214.8 694.9 1212.5 C700.9 1210.2 706.9 1207.6 712.4 1204.4 C716.5 1202.2 720.5 1199.8 724.1 1196.9 C727.7 1194.1 730.9 1190.8 733.9 1187.3 C737.6 1183 740.8 1178.1 743.5 1173.1 C746.7 1167.3 749.1 1161 751.3 1154.8 C753.7 1148.1 755.6 1141.2 757.2 1134.4 C758.8 1127.7 759.9 1120.9 761 1114.1 C762.2 1107.3 763.1 1100.5 764 1093.7 C764.9 1086.9 765.8 1080.1 766.5 1073.3 C767.5 1063.8 768 1054.2 768.8 1044.7 C769.7 1034.6 770.8 1024.4 771.8 1014.2 C772.7 1004.1 773.4 993.9 774.3 983.8 C775.3 972.7 777.4 950.6 777.4 950.6 L780.7 905.7 L789.1 863.9 L796.2 874.1 L803.6 926.1 L812.3 975 L819.6 972.9 L827.3 948.5 L843.5 924.1 L858 859.9 L866.2 857.2 L874 867 L889.2 873.5 L897.9 881.7 L905.7 882.3 L913.5 871.1 L935.8 812 L943.2 826.3 L950.4 871.1 L958.2 893.5 L966.9 896.6 L973.7 891.4 L990.3 865 L998.1 856.8 L1006.3 854.4 L1013.5 847.2 L1021.4 863.6 L1029.1 920.6 L1035.6 967.5 L1039.5 995.3 L1043.7 1021.7 L1051.1 1056.2 C1051.1 1056.2 1059.8 1074 1063.9 1083.1 C1067.7 1091.3 1071.5 1099.6 1074.9 1108 C1078.2 1116.2 1081 1124.6 1084.1 1132.9 C1086.2 1138.7 1087.9 1144.7 1090.5 1150.2 C1093.3 1156.2 1097.1 1161.8 1100.6 1167.4 C1104.7 1174.2 1108.2 1181.7 1113.4 1187.6 C1116.7 1191.4 1120.4 1195.1 1124.4 1198.1 C1127.8 1200.7 1131.5 1203.2 1135.4 1204.8 C1138.9 1206.3 1142.7 1207.5 1146.3 1207.7 C1150 1207.9 1153.7 1206.8 1157.4 1206.3 C1161 1205.7 1164.8 1203.8 1168.4 1204.3 C1170.9 1204.7 1173.3 1206.2 1175.7 1207.3 C1179.5 1209.1 1182.8 1212 1186.7 1213.9 C1190.8 1215.9 1195.1 1217.4 1199.5 1218.6 C1206 1220.5 1212.9 1220.8 1219.6 1221.7 C1227 1222.7 1234.3 1223.5 1241.7 1224.1 C1248.7 1224.7 1255.8 1225 1262.8 1225.4" stroke="#0000ff"/>
</g>
<path d="M842 716.9V1227" stroke="#bdbdbd" stroke-width="4" stroke-dasharray="7 13.97" stroke-linecap="round" fill="none"/>
<g font-size="40" font-weight="bold" text-anchor="middle">
<text x="648.2" y="1279">2</text>
<text x="802.1" y="1279">3</text>
<text x="956" y="1279">4</text>
<text x="1109.9" y="1279">5</text>
<text x="1263.8" y="1279">6</text>
</g>
<g font-size="40" font-weight="bold" text-anchor="end">
<text x="577.1" y="1244">0.0</text>
<text x="577.1" y="1072.3">0.3</text>
<text x="577.1" y="900.7">0.6</text>
<text x="577.1" y="729">0.9</text>
</g>
<g font-size="47.2" font-weight="bold">
<text x="749.6" y="1328.2" textLength="136.1" lengthAdjust="spacingAndGlyphs">Photon</text>
<text x="904.1" y="1328.2" textLength="131.8" lengthAdjust="spacingAndGlyphs">energy</text>
<text x="1048.1" y="1328.2" textLength="85.2" lengthAdjust="spacingAndGlyphs">(eV)</text>
</g>
<g transform="translate(506.6 1140.6) rotate(-90)">
<text x="0" y="0" font-size="56" font-weight="bold"><tspan font-style="italic" font-size="76" dy="0.7">ε</tspan><tspan font-size="32" font-weight="normal" dx="-0.4" dy="-2.4">2</tspan><tspan dx="9" dy="1.7">(arb. units)</tspan></text>
</g>
<text x="451.8" y="717" font-size="54" font-weight="bold" textLength="62.9" lengthAdjust="spacingAndGlyphs">(c)</text>
<path d="M810 1132.3H862.5" stroke="#0000ff" stroke-width="6.4" stroke-linecap="round" fill="none"/>
<path d="M810 1170.9H862.5" stroke="#ff0000" stroke-width="6.4" stroke-linecap="round" fill="none"/>
<text x="882" y="1140.4" font-size="29.8" font-weight="bold"><tspan font-style="italic">x</tspan><tspan dx="2.5"> direction</tspan></text>
<text x="882" y="1179.1" font-size="29.8" font-weight="bold"><tspan font-style="italic">y</tspan><tspan dx="1.5"> direction</tspan></text>
</g>
</svg>
</body></html>
